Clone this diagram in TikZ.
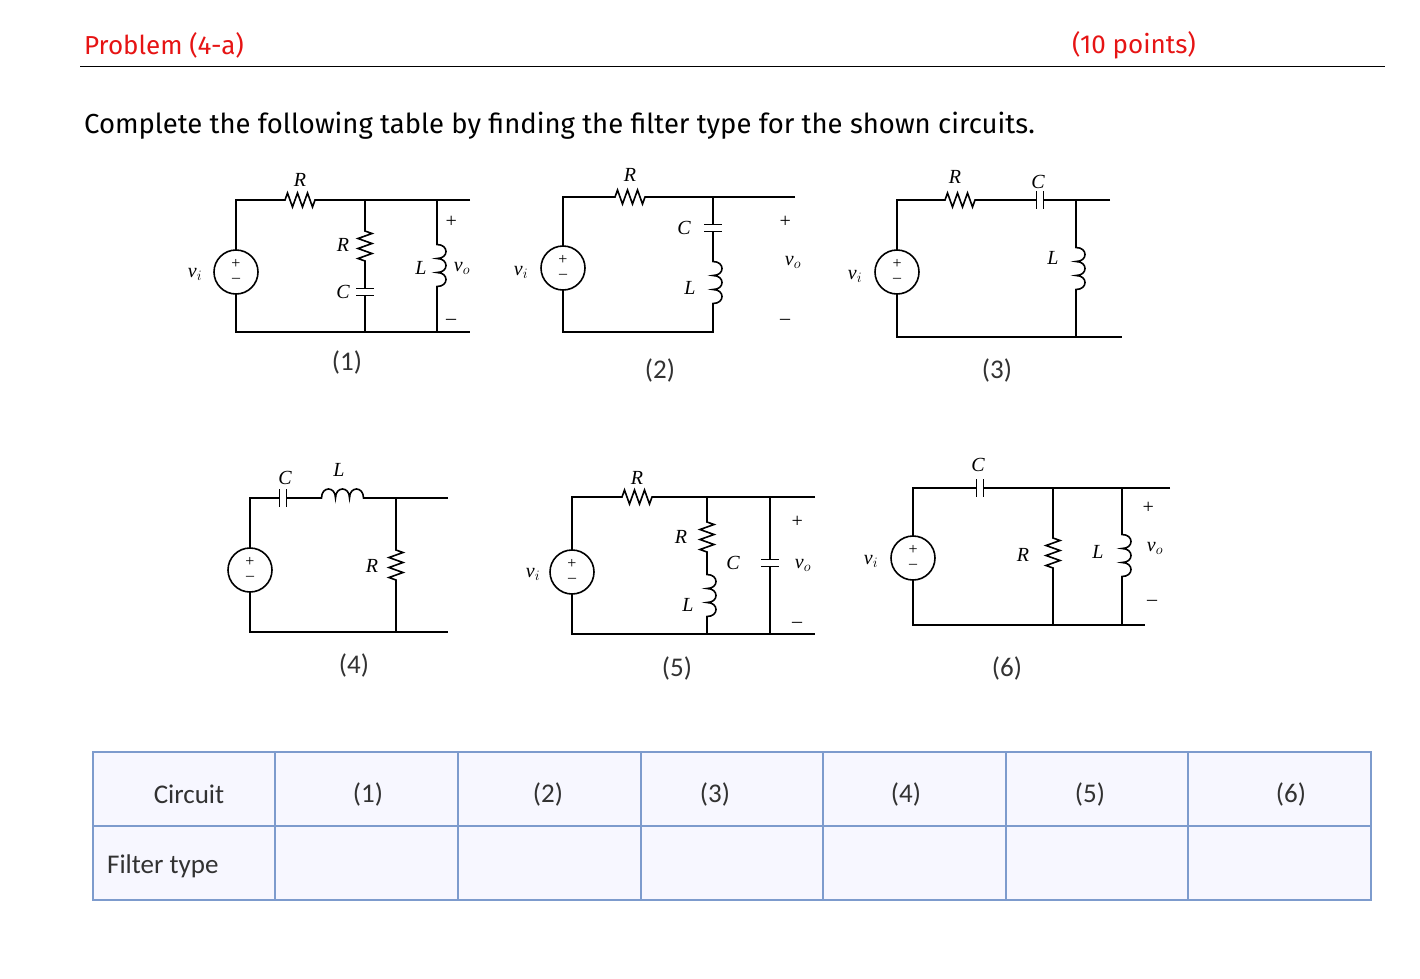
\documentclass[tikz,border=0pt]{standalone}
\usepackage{fontspec}
\setmainfont{Liberation Serif}
\newfontfamily\hdr{Fira Sans}
\newfontfamily\tbl{Carlito}
\definecolor{hred}{RGB}{230,20,20}
\definecolor{tblue}{RGB}{125,155,205}
\definecolor{tgray}{RGB}{50,50,50}
\newcommand\hres[2]{\fill[white] (#1-16,#2-2) rectangle (#1+16,#2+2);
 \draw (#1-17,#2) -- ++(2,0) -- ++(2.5,-7) -- ++(5,14) -- ++(5,-14) -- ++(5,14) -- ++(5,-14) -- ++(5,14) -- ++(2.5,-7) -- ++(2,0);}
\newcommand\vres[2]{\fill[white] (#1-2,#2-16) rectangle (#1+2,#2+16);
 \draw (#1,#2-17) -- ++(0,2) -- ++(7,2.5) -- ++(-14,5) -- ++(14,5) -- ++(-14,5) -- ++(14,5) -- ++(-14,5) -- ++(7,2.5) -- ++(0,2);}
\newcommand\vind[2]{\fill[white] (#1-2,#2-22) rectangle (#1+2,#2+22);
 \draw (#1,#2-23) -- ++(0,2.5) foreach \k in {0,1,2}{ .. controls ++(12,0) and ++(12,0) .. ++(0,14)} -- ++(0,2.5);}
\newcommand\hind[2]{\fill[white] (#1-22,#2-2) rectangle (#1+22,#2+2);
 \draw (#1-23,#2) -- ++(2.5,0) foreach \k in {0,1,2}{ .. controls ++(0,-12) and ++(0,-12) .. ++(14,0)} -- ++(2.5,0);}
\newcommand\hcap[2]{\fill[white] (#1-3,#2-2) rectangle (#1+3,#2+2);
 \draw (#1-3.5,#2-9) -- (#1-3.5,#2+9) (#1+3.5,#2-9) -- (#1+3.5,#2+9);}
\newcommand\vcap[2]{\fill[white] (#1-2,#2-3) rectangle (#1+2,#2+3);
 \draw (#1-9,#2-3.5) -- (#1+9,#2-3.5) (#1-9,#2+3.5) -- (#1+9,#2+3.5);}
\newcommand\src[2]{\draw[fill=white] (#1,#2) circle (22);
 \node[font=\fontsize{16}{16}\selectfont] at (#1,#2-8) {+};
 \node[font=\fontsize{16}{16}\selectfont] at (#1,#2+8) {\textendash};}
\newcommand\lab[3]{\node[font=\fontsize{20}{20}\selectfont\itshape] at (#1,#2) {#3};}
\newcommand\num[3]{\node[font=\tbl\fontsize{27}{27}\selectfont,text=tgray] at (#1,#2) {#3};}
\begin{document}
\begin{tikzpicture}[x=1pt,y=-1pt,line width=1.6pt]
\useasboundingbox (0,0) rectangle (1420,978);
\node[anchor=west,text=hred,font=\hdr\fontsize{26}{26}\selectfont] (t1) at (80,45) {Problem (4-a)};
\node[anchor=east,text=hred,font=\hdr\fontsize{26}{26}\selectfont] (t2) at (1200,45) {(10 points)};
\draw[line width=1pt] (80,66) -- (1385,66);
\node[anchor=west,font=\hdr\fontsize{27.5}{27.5}\selectfont] (t3) at (80,126) {Complete the following table by finding the filter type for the shown circuits.};
% circuit 1
\draw (470,200) -- (236,200) -- (236,332) -- (470,332);
\draw (365,200) -- (365,332) (437,200) -- (437,332);
\src{236}{272}\hres{300}{200}\vres{365}{246}\vcap{365}{292}\vind{437}{265}
\lab{300}{180}{R}\lab{343}{245}{R}\lab{343}{292}{C}\lab{421}{268}{L}\lab{195}{274}{v$_i$}\lab{462}{268}{v$_o$}
\lab{451}{222}{+}\lab{451}{322}{\textendash}\num{347}{362}{(1)}
% circuit 2
\draw (795,197) -- (563,197) -- (563,332) -- (713,332) -- (713,197);
\src{563}{268}\hres{630}{197}\vcap{713}{228}\vind{713}{282}
\lab{630}{175}{R}\lab{684}{228}{C}\lab{690}{288}{L}\lab{521}{272}{v$_i$}\lab{793}{262}{v$_o$}
\lab{785}{222}{+}\lab{785}{322}{\textendash}\num{660}{370}{(2)}
% circuit 3
\draw (1110,200) -- (897,200) -- (897,337) -- (1122,337) (1076,200) -- (1076,337);
\src{897}{272}\hres{960}{200}\hcap{1040}{200}\vind{1076}{268}
\lab{955}{177}{R}\lab{1038}{182}{C}\lab{1053}{258}{L}\lab{855}{276}{v$_i$}\num{997}{370}{(3)}
% circuit 4
\draw (448,498) -- (250,498) -- (250,632) -- (448,632) (396,498) -- (396,632);
\src{250}{570}\hcap{283}{498}\hind{342}{498}\vres{396}{565}
\lab{285}{478}{C}\lab{339}{470}{L}\lab{372}{566}{R}\num{354}{665}{(4)}
% circuit 5
\draw (815,497) -- (572,497) -- (572,634) -- (815,634) (707,497) -- (707,634) (770,497) -- (770,634);
\src{572}{572}\hres{637}{497}\vres{707}{537}\vind{707}{595}\vcap{770}{563}
\lab{637}{478}{R}\lab{681}{537}{R}\lab{688}{605}{L}\lab{733}{563}{C}\lab{533}{574}{v$_i$}\lab{803}{565}{v$_o$}
\lab{797}{522}{+}\lab{797}{625}{\textendash}\num{677}{668}{(5)}
% circuit 6
\draw (1170,488) -- (913,488) -- (913,625) -- (1145,625) (1053,488) -- (1053,625) (1122,488) -- (1122,625);
\src{913}{558}\hcap{980}{488}\vres{1053}{553}\vind{1122}{555}
\lab{978}{465}{C}\lab{1023}{555}{R}\lab{1098}{552}{L}\lab{871}{561}{v$_i$}\lab{1155}{548}{v$_o$}
\lab{1148}{508}{+}\lab{1152}{603}{\textendash}\num{1007}{668}{(6)}
% table
\fill[blue!3] (93,752) rectangle (1371,900);
\draw[tblue,line width=2.5pt] (93,752) rectangle (1371,900) (93,826) -- (1371,826);
\foreach \x in {275,458,641,823,1006,1188} \draw[tblue,line width=2.5pt] (\x,752) -- (\x,900);
\num{189}{794}{Circuit}
\node[anchor=west,font=\tbl\fontsize{27}{27}\selectfont,text=tgray] at (103,866) {Filter type};
\num{368}{794}{(1)}\num{548}{794}{(2)}\num{715}{794}{(3)}\num{906}{794}{(4)}\num{1090}{794}{(5)}\num{1291}{794}{(6)}
\end{tikzpicture}
\end{document}
